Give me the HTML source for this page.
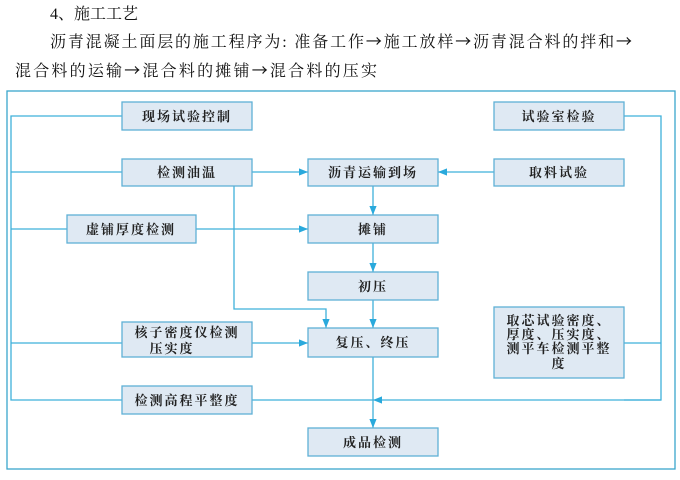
<!DOCTYPE html>
<html><head><meta charset="utf-8"><style>
body{margin:0;width:680px;height:475px;background:#fff;overflow:hidden}
svg text{font-family:"Liberation Serif","Noto Serif CJK SC","Noto Sans CJK SC",serif}
.ar{font-family:"Noto Sans CJK SC",sans-serif}
</style></head><body>
<svg width="680" height="475" xmlns="http://www.w3.org/2000/svg">
<defs><marker id="a" viewBox="0 0 10 10" refX="10" refY="5" markerWidth="7" markerHeight="7" orient="auto"><path d="M0,1L10,5L0,9z" fill="#29a9dc"/></marker></defs>
<text x="50" y="19" font-size="16" fill="#111">4、施工工艺</text>
<text x="50" y="47" font-size="16" fill="#111" textLength="582">沥青混凝土面层的施工程序为: 准备工作<tspan class="ar">→</tspan>施工放样<tspan class="ar">→</tspan>沥青混合料的拌和<tspan class="ar">→</tspan></text>
<text x="15" y="76" font-size="16" fill="#111" textLength="362">混合料的运输<tspan class="ar">→</tspan>混合料的摊铺<tspan class="ar">→</tspan>混合料的压实</text>
<rect x="7" y="91" width="668" height="378" fill="none" stroke="#3aa6cc" stroke-width="1.3"/>
<g stroke="#3fb0da" stroke-width="1.3" fill="none">
<path d="M122 116H11V400H122M11 172H122M11 229H67M11 343H122"/>
<path d="M624 116H661V400H624M661 343H624"/>
<path d="M252 400H373M661 400H373" marker-end="url(#a)"/>
<path d="M252 172H308" marker-end="url(#a)"/>
<path d="M494 172H438" marker-end="url(#a)"/>
<path d="M196 229H308" marker-end="url(#a)"/>
<path d="M252 343H308" marker-end="url(#a)"/>
<path d="M234 186V309H326V328" marker-end="url(#a)"/>
<path d="M373 186V215" marker-end="url(#a)"/>
<path d="M373 243V272" marker-end="url(#a)"/>
<path d="M373 300V328" marker-end="url(#a)"/>
<path d="M373 357V428" marker-end="url(#a)"/>
</g>
<g fill="#dfe9f3" stroke="#5fb0d6" stroke-width="1.3">
<rect x="122" y="102" width="130" height="28"/>
<rect x="122" y="159" width="130" height="27"/>
<rect x="67" y="215" width="129" height="28"/>
<rect x="122" y="322" width="130" height="35"/>
<rect x="122" y="386" width="130" height="28"/>
<rect x="308" y="159" width="130" height="27"/>
<rect x="308" y="215" width="130" height="28"/>
<rect x="308" y="272" width="130" height="28"/>
<rect x="308" y="328" width="130" height="29"/>
<rect x="308" y="428" width="130" height="28"/>
<rect x="494" y="102" width="130" height="28"/>
<rect x="494" y="159" width="130" height="27"/>
<rect x="494" y="307" width="130" height="71"/>
</g>
<g font-size="13" font-weight="bold" fill="#222" text-anchor="middle" letter-spacing="2">
<text x="187" y="121">现场试验控制</text>
<text x="187" y="177">检测油温</text>
<text x="131" y="234">虚铺厚度检测</text>
<text x="187" y="337">核子密度仪检测</text>
<text x="172" y="353">压实度</text>
<text x="187" y="405">检测高程平整度</text>
<text x="373" y="177">沥青运输到场</text>
<text x="373" y="234">摊铺</text>
<text x="373" y="291">初压</text>
<text x="373" y="347">复压、终压</text>
<text x="373" y="447">成品检测</text>
<text x="559" y="121">试验室检验</text>
<text x="559" y="177">取料试验</text>
<text x="559" y="325">取芯试验密度、</text>
<text x="559" y="339">厚度、压实度、</text>
<text x="559" y="353">测平车检测平整</text>
<text x="559" y="368">度</text>
</g>
</svg>
</body></html>
